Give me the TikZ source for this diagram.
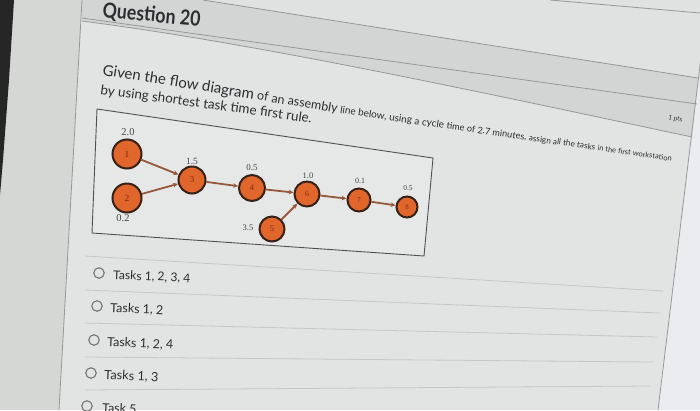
\documentclass[tikz,border=0pt]{standalone}
\usepackage{fontspec}
\usepackage{graphicx}
\setmainfont{Lato}
\newfontfamily\diagfont{Liberation Serif}
\usetikzlibrary{arrows.meta}
\definecolor{bgmain}{RGB}{226,228,227}
\definecolor{bgleft}{RGB}{213,215,213}
\definecolor{bgright}{RGB}{234,236,239}
\definecolor{hdr}{RGB}{210,213,212}
\definecolor{hdrtop}{RGB}{224,226,226}
\definecolor{linec}{RGB}{150,152,152}
\definecolor{txt}{RGB}{45,45,48}
\definecolor{taskfill}{RGB}{224,102,44}
\definecolor{taskline}{RGB}{55,32,22}
\definecolor{tasknum}{RGB}{125,45,20}
\definecolor{flowc}{RGB}{150,88,58}
\definecolor{labc}{RGB}{70,70,70}
\definecolor{sepc}{RGB}{198,200,200}
\definecolor{radc}{RGB}{115,115,115}
\definecolor{boxc}{RGB}{80,80,80}
\newcommand\fsz[1]{\fontsize{#1}{#1}\selectfont}
\begin{document}
\begin{tikzpicture}[x=1pt,y=-1pt,
  task/.style={circle, draw=taskline, fill=taskfill, line width=2pt, inner sep=0pt, text=tasknum},
  flow/.style={draw=flowc, line width=1.8pt, -{Stealth[length=5pt,width=4.5pt]}},
  tlabel/.style={text=labc, inner sep=0pt},
  ptext/.style={anchor=base west, inner sep=0pt, text=txt},
  sep/.style={draw=sepc, line width=0.8pt},
  radio/.style={circle, draw=radc, line width=1.1pt, inner sep=0pt, minimum size=10.5pt},
  edge/.style={draw=linec, line width=0.8pt}
]
\useasboundingbox (0,0) rectangle (700,410);
% backgrounds
\fill[bgmain] (0,0) rectangle (700,410);
\fill[bgleft] (0,0) -- (82,0) -- (59,410) -- (0,410) -- cycle;
\fill[black!85] (0,0) -- (14,0) -- (9,80) -- (3,160) -- (0,195) -- cycle;
\fill[bgright] (700,65) -- (658,410) -- (700,410) -- cycle;
\fill[hdrtop] (203,0) -- (700,0) -- (700,78) -- cycle;
\fill[hdr] (82,0) -- (203,0) -- (698,78) -- (692,137) .. controls (480,92) and (260,44) .. (82,21) -- cycle;
% lines of the page
\draw[edge] (82,0) -- (59,410);
\draw[edge] (708,0) -- (658,410);
\draw[edge] (550,0) -- (700,13);
\draw[edge] (203,0) -- (698,78);
\draw[edge] (82,18) -- (697,104);
\draw[edge] (82,21) .. controls (260,44) and (480,92) .. (692,137);
% header texts
\node[ptext, rotate=-5.5] (qt) at (102,17) {\resizebox{98pt}{15.5pt}{\bfseries Question 20}};
\node[ptext, rotate=-12] (pts) at (668,119) {\resizebox{14pt}{!}{1 pts}};
% question text, first line in pieces that shrink with the view
\node[ptext, rotate=-9.1, font=\fsz{15}] (l1a) at (102,75) {Given the flow diagram};
\node[ptext, rotate=-9.1, font=\fsz{12.5}] (l1b) at (l1a.base east) {\ of an assembly};
\node[ptext, rotate=-8.4, font=\fsz{10}] (l1c) at (l1b.base east) {\ line below, using a cycle};
\node[ptext, rotate=-8.2, font=\fsz{9.2}] (l1d) at (l1c.base east) {\ time of 2.7 minutes,};
\node[ptext, rotate=-8.2, font=\fsz{8.3}] (l1e) at (l1d.base east) {\ assign all the tasks};
\node[ptext, rotate=-8.2, font=\fsz{7.5}] (l1f) at (l1e.base east) {\ in the first workstation};
\node[ptext, rotate=-7.8] (l2) at (100,94) {\resizebox{213pt}{!}{by using shortest task time first rule.}};
% diagram box
\fill[bgmain!85!white] (97,109) -- (433,158) -- (424,256) -- (92,233) -- cycle;
\draw[boxc, line width=0.9pt] (97,109) -- (433,158) -- (424,256) -- (92,233) -- cycle;
% tasks
\node[task, minimum size=29pt, font={\diagfont\fsz{9.5}}] (n1) at (127,154) {1};
\node[task, minimum size=29pt, font={\diagfont\fsz{9.5}}] (n2) at (127,198) {2};
\node[task, minimum size=27pt, font={\diagfont\fsz{9}}] (n3) at (192,180) {3};
\node[task, minimum size=26pt, font={\diagfont\fsz{8.5}}] (n4) at (252,188) {4};
\node[task, minimum size=25pt, font={\diagfont\fsz{8.5}}] (n5) at (272,229) {5};
\node[task, minimum size=25pt, font={\diagfont\fsz{8}}] (n6) at (307,194) {6};
\node[task, minimum size=23pt, font={\diagfont\fsz{7.5}}] (n7) at (359,200) {7};
\node[task, minimum size=21pt, font={\diagfont\fsz{7}}] (n8) at (407,207) {8};
% flows
\draw[flow] (n1) -- (n3);
\draw[flow] (n2) -- (n3);
\draw[flow] (n3) -- (n4);
\draw[flow] (n4) -- (n6);
\draw[flow] (n5) -- (n6);
\draw[flow] (n6) -- (n7);
\draw[flow] (n7) -- (n8);
% task times
\node[tlabel, font={\diagfont\fsz{10.5}}] (t1) at (128,132) {2.0};
\node[tlabel, font={\diagfont\fsz{10.5}}] (t2) at (123,218) {0.2};
\node[tlabel, font={\diagfont\fsz{9.5}}] (t3) at (192,161) {1.5};
\node[tlabel, font={\diagfont\fsz{9}}] (t4) at (252,168) {0.5};
\node[tlabel, font={\diagfont\fsz{8.5}}] (t5) at (248,228) {3.5};
\node[tlabel, font={\diagfont\fsz{8.5}}] (t6) at (308,176) {1.0};
\node[tlabel, font={\diagfont\fsz{8}}] (t7) at (360,181) {0.1};
\node[tlabel, font={\diagfont\fsz{7.5}}] (t8) at (408,188) {0.5};
% answer separators
\draw[sep] (85,256) -- (663,291);
\draw[sep] (85,290) -- (660,313);
\draw[sep] (85,323) -- (657,337);
\draw[sep] (85,357) -- (653,362);
\draw[sep] (85,390) -- (650,386);
% answers
\node[radio] (r1) at (99,273) {};
\node[radio] (r2) at (97,306) {};
\node[radio] (r3) at (94,340) {};
\node[radio] (r4) at (91,373) {};
\node[radio] (r5) at (87,406) {};
\node[ptext, rotate=-2.5] (a1) at (113,279) {\resizebox{77pt}{!}{Tasks 1, 2, 3, 4}};
\node[ptext, rotate=-2.5] (a2) at (110,312) {\resizebox{53pt}{!}{Tasks 1, 2}};
\node[ptext, rotate=-2.5] (a3) at (107,346) {\resizebox{66pt}{!}{Tasks 1, 2, 4}};
\node[ptext, rotate=-2.5] (a4) at (104,379) {\resizebox{54pt}{!}{Tasks 1, 3}};
\node[ptext, rotate=-2.5] (a5) at (102,412) {\resizebox{34pt}{!}{Task 5}};
\end{tikzpicture}
\end{document}
